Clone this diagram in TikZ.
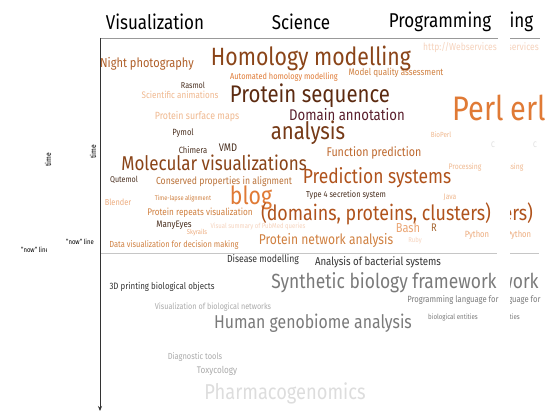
\documentclass[tikz,border=0pt]{standalone}
\usepackage{fontspec}
\setmainfont{Fira Sans}[FakeStretch=0.85]
\usetikzlibrary{arrows.meta}

\definecolor{darkbrown}{HTML}{5C2A10}
\definecolor{brown}{HTML}{8A4418}
\definecolor{maroon}{HTML}{5A1F2D}
\definecolor{rust}{HTML}{B0531C}
\definecolor{nightcol}{HTML}{B0602A}
\definecolor{orange}{HTML}{E07A35}
\definecolor{midorange}{HTML}{D08040}
\definecolor{peach}{HTML}{F0B990}
\definecolor{palepeach}{HTML}{F6D3BD}
\definecolor{tooldark}{HTML}{4A3020}
\definecolor{darkgrey}{HTML}{333333}
\definecolor{midgrey}{HTML}{7A7A7A}
\definecolor{lightgrey}{HTML}{AAAAAA}
\definecolor{palegrey}{HTML}{DDDDDD}

\tikzset{
  fs/.style={font=\fontsize{#1}{#1}\selectfont},
  word/.style={inner sep=0pt, anchor=center},
}

% the whole cloud, drawn once in place and again in the two cut strips
\newcommand{\wordcloud}{%
  % --- 1. AXES ---
  \coordinate (origin) at (100,38);
  \coordinate (topend) at (498,38);
  \coordinate (timeend) at (100,411);
  \coordinate (nowstart) at (100,253);
  \coordinate (nowend) at (497,253);
  \draw[gray!80, line width=0.8pt] (origin) -- (topend);
  \draw[gray!45, line width=0.6pt] (nowstart) -- (nowend);
  \draw[->, black!80, line width=0.8pt] (origin) -- (timeend);

  % --- 2. COLUMN HEADERS ---
  \node[word, fs=20] (vis) at (155,22) {Visualization};
  \node[word, fs=20] (sci) at (301,22) {Science};
  \node[word, fs=20] (prog) at (440,22) {Programming};

  % time axis labels
  \node[word, fs=8, rotate=90] (timelbl) at (93,152) {time};
  \node[word, fs=7] (nowlbl) at (80,242) {"now" line};

  % --- 3. PAST: WORDS ABOVE THE "NOW" LINE ---
  \node[word, fs=13, nightcol] (night) at (147,64) {Night photography};
  \node[word, fs=25, brown] (homology) at (311,58) {Homology modelling};
  \node[word, fs=10, palepeach] (websrv) at (460,48) {http://Webservices};
  \node[word, fs=8.7, orange] (autohom) at (284,77) {Automated homology modelling};
  \node[word, fs=9.5, midorange] (modelq) at (396,73) {Model quality assessment};
  \node[word, fs=8.5, tooldark] (rasmol) at (193,85) {Rasmol};
  \node[word, fs=9.5, peach] (sciani) at (180,95) {Scientific animations};
  \node[word, fs=24, darkbrown] (protseq) at (310,96) {Protein sequence};
  \node[word, fs=34, orange] (perl) at (478,108) {Perl};
  \node[word, fs=15.5, maroon] (domann) at (347,115) {Domain annotation};
  \node[word, fs=24, darkbrown!80!orange] (analysis) at (308,133) {analysis};
  \node[word, fs=10.4, peach] (surface) at (197,117) {Protein surface maps};
  \node[word, fs=9, tooldark] (pymol) at (183,133) {Pymol};
  \node[word, fs=7.4, peach] (bioperl) at (441,135) {BioPerl};
  \node[word, fs=9, tooldark] (chimera) at (193,150) {Chimera};
  \node[word, fs=11, tooldark] (vmd) at (228,148) {VMD};
  \node[word, fs=8, palegrey] (clang) at (493,145) {C};
  \node[word, fs=20, brown] (molvis) at (214,163) {Molecular visualizations};
  \node[word, fs=12.6, orange!85!black] (funcpred) at (374,153) {Function prediction};
  \node[word, fs=8.4, tooldark] (qutemol) at (124,180) {Qutemol};
  \node[word, fs=10.2, midorange!90!black] (conserved) at (224,182) {Conserved properties in alignment};
  \node[word, fs=20.5, rust] (predsys) at (377,178) {Prediction systems};
  \node[word, fs=8, peach] (processing) at (465,167) {Processing};
  \node[word, fs=8.7, tooldark] (type4) at (346,195) {Type 4 secretion system};
  \node[word, fs=8, peach] (java) at (450,197) {Java};
  \node[word, fs=25, orange] (blog) at (251,198) {blog};
  \node[word, fs=21, rust] (domains) at (376,214) {(domains, proteins, clusters)};
  \node[word, fs=8.7, peach!80!orange] (blender) at (118,202) {Blender};
  \node[word, fs=6.7, midorange] (timelapse) at (183,199) {Time-lapse alignment};
  \node[word, fs=9.6, midorange] (repeats) at (200,213) {Protein repeats visualization};
  \node[word, fs=9.4, tooldark] (manyeyes) at (174,225) {ManyEyes};
  \node[word, fs=7, palepeach] (pubmed) at (258,227) {Visual summary of PubMed queries};
  \node[word, fs=6.8, peach!80!orange] (skyrails) at (197,233) {Skyrails};
  \node[word, fs=8.8, midorange] (datavis) at (174,245) {Data visualization for decision making};
  \node[word, fs=14.2, midorange] (protnet) at (326,240) {Protein network analysis};
  \node[word, fs=13, peach!70!orange] (bash) at (408,228) {Bash};
  \node[word, fs=11, midorange!80!black] (rlang) at (434,228) {R};
  \node[word, fs=7, palepeach] (ruby) at (415,241) {Ruby};
  \node[word, fs=9, peach!80!orange] (python) at (477,235) {Python};

  % --- 4. FUTURE: WORDS BELOW THE "NOW" LINE ---
  \node[word, fs=10.2, darkgrey] (disease) at (263,260) {Disease modelling};
  \node[word, fs=11.4, darkgrey] (bacterial) at (378,262) {Analysis of bacterial systems};
  \node[word, fs=9.3, darkgrey] (printing) at (162,287) {3D printing biological objects};
  \node[word, fs=20.5, midgrey] (synbio) at (384,283) {Synthetic biology framework};
  \node[word, fs=9, midgrey] (proglang) at (453,300) {Programming language for};
  \node[word, fs=7.2, midgrey] (entities) at (453,317) {biological entities};
  \node[word, fs=8.5, lightgrey] (networks) at (213,307) {Visualization of biological networks};
  \node[word, fs=18.6, midgrey] (genobiome) at (313,323) {Human genobiome analysis};
  \node[word, fs=8.8, lightgrey] (diag) at (195,357) {Diagnostic tools};
  \node[word, fs=9.6, lightgrey] (toxy) at (217,371) {Toxycology};
  \node[word, fs=21.5, palegrey] (pharma) at (285,393) {Pharmacogenomics};
}

\begin{document}
\begin{tikzpicture}[
		x=1pt, y=-1pt,
		>={Stealth[length=5pt, width=4pt]}
		]
		\fill[white] (0,0) rectangle (560,420);
		\useasboundingbox (0,0) rectangle (560,420);

		% main cloud
		\wordcloud

		% --- 5. CUT STRIPS AT THE EDGES ---
		% right strip: the programming column again, shifted
		\begin{scope}
			\clip (510,0) rectangle (560,420);
			\begin{scope}[shift={(42,0)}]
				\wordcloud
			\end{scope}
		\end{scope}

		% left strip: the time labels again, shifted
		\begin{scope}
			\clip (0,0) -- (52,0) -- (52,200) -- (46,200) -- (46,420) -- (0,420) -- cycle;
			\begin{scope}[shift={(-45,8)}]
				\wordcloud
			\end{scope}
		\end{scope}

	\end{tikzpicture}
\end{document}
